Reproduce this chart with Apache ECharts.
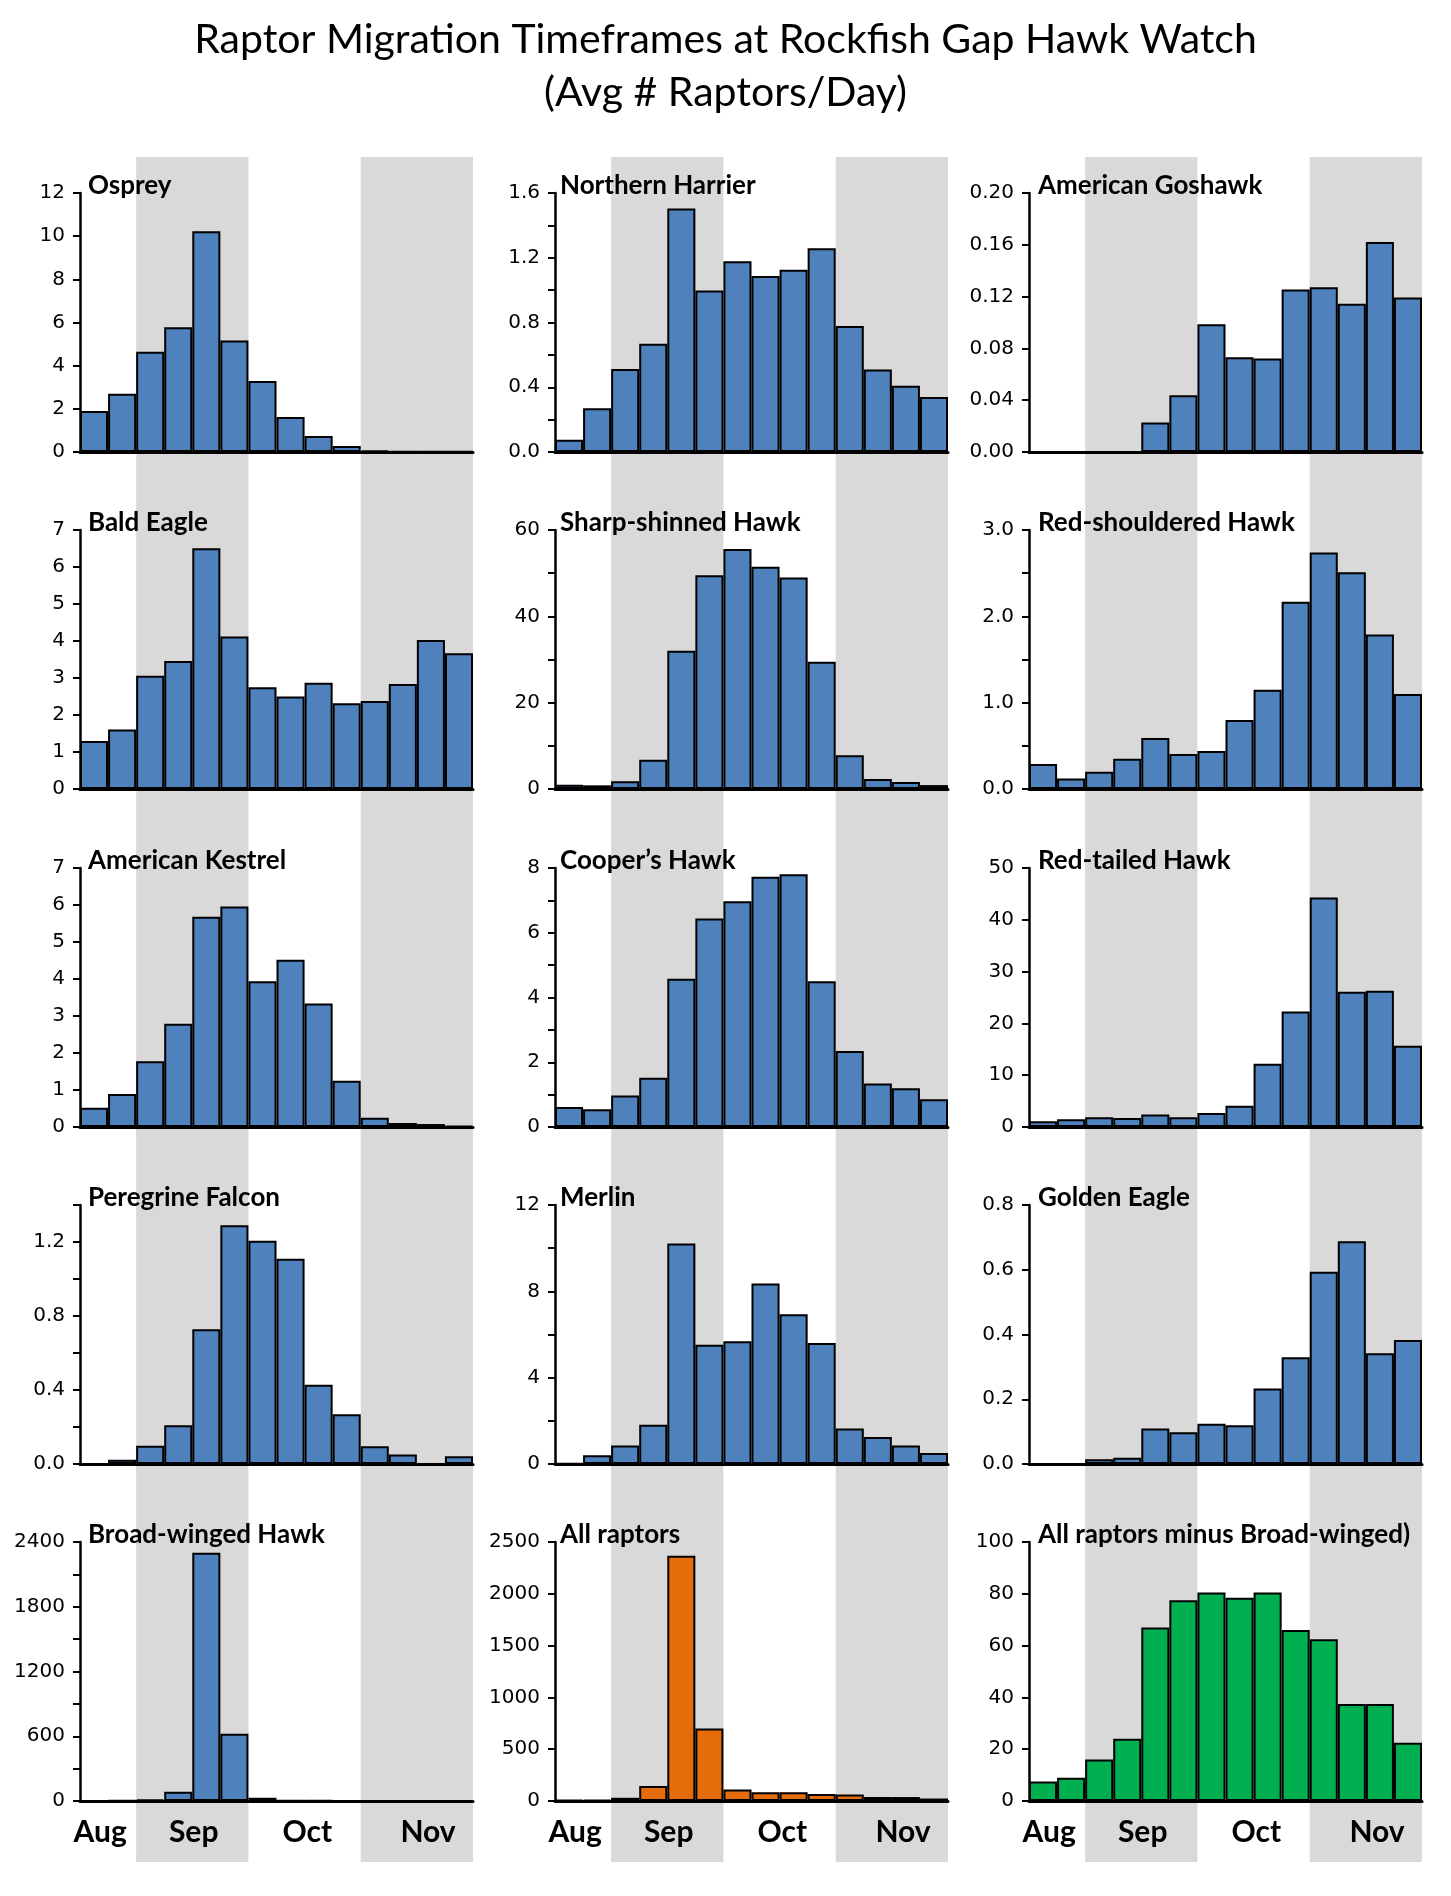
<!DOCTYPE html>
<html>
<head>
<meta charset="utf-8">
<title>Raptor Migration Timeframes</title>
<script src="https://cdn.jsdelivr.net/npm/echarts@6/dist/echarts.min.js"></script>
<style>
  html, body { margin: 0; padding: 0; background: #fff; }
  #chart { width: 1451px; height: 1896px; }
</style>
</head>
<body>
<div id="chart"></div>
<script>
// weekly bins, mid-Aug to end of Nov
const weeks = ['Aug 3', 'Aug 4', 'Sep 1', 'Sep 2', 'Sep 3', 'Sep 4', 'Oct 1', 'Oct 2', 'Oct 3', 'Oct 4', 'Nov 1', 'Nov 2', 'Nov 3', 'Nov 4'];
const months = ['Aug', 'Sep', 'Oct', 'Nov'];
// shaded months (Sep, Nov) as bin ranges
const shadedBins = [[2, 6], [10, 14]];

// avg # raptors per day
const osprey = [1.9, 2.7, 4.64, 5.78, 10.23, 5.17, 3.29, 1.62, 0.74, 0.28, 0.07, 0.03, 0.02, 0.02];
const northernHarrier = [0.076, 0.27, 0.513, 0.669, 1.505, 0.997, 1.178, 1.087, 1.126, 1.258, 0.778, 0.509, 0.41, 0.34];
const americanGoshawk = [0, 0, 0, 0, 0.0227, 0.0438, 0.0987, 0.0732, 0.0722, 0.1255, 0.1273, 0.1144, 0.1621, 0.1193];
const baldEagle = [1.30, 1.61, 3.06, 3.46, 6.51, 4.12, 2.75, 2.50, 2.87, 2.32, 2.38, 2.84, 4.03, 3.67];
const sharpShinned = [1.0, 0.85, 1.8, 6.8, 32.0, 49.5, 55.6, 51.5, 49.0, 29.5, 7.8, 2.3, 1.6, 0.9];
const redShouldered = [0.29, 0.123, 0.20, 0.35, 0.59, 0.405, 0.44, 0.80, 1.15, 2.17, 2.74, 2.51, 1.79, 1.10];
const americanKestrel = [0.52, 0.89, 1.78, 2.79, 5.68, 5.96, 3.94, 4.52, 3.34, 1.25, 0.25, 0.11, 0.08, 0.03];
const coopersHawk = [0.62, 0.55, 0.97, 1.52, 4.58, 6.44, 6.97, 7.73, 7.81, 4.50, 2.35, 1.34, 1.20, 0.86];
const redTailed = [1.1, 1.5, 1.9, 1.75, 2.4, 1.9, 2.7, 4.1, 12.2, 22.3, 44.3, 26.1, 26.3, 15.7];
const peregrine = [0, 0.023, 0.098, 0.21, 0.728, 1.29, 1.207, 1.11, 0.428, 0.269, 0.096, 0.051, 0, 0.042];
const merlin = [0.02, 0.40, 0.86, 1.82, 10.22, 5.52, 5.69, 8.36, 6.94, 5.61, 1.65, 1.25, 0.86, 0.51];
const goldenEagle = [0, 0, 0.015, 0.019, 0.11, 0.098, 0.124, 0.12, 0.233, 0.33, 0.594, 0.688, 0.342, 0.383];
const broadWinged = [2, 3, 12, 85, 2300, 623, 30, 5, 3, 2, 1, 1, 0.5, 0.5];
const allRaptors = [10, 12, 31, 144, 2367, 701, 111, 84, 84, 68, 63, 39, 38, 24];
const allMinusBroadWinged = [7.5, 9, 16, 24, 67, 77.5, 80.5, 78.5, 80.5, 66, 62.5, 37.5, 37.5, 22.5];

const BLUE = '#4f81bd', ORANGE = '#e46c0a', GREEN = '#00b050', SHADE = '#d9d9d9';

// panel setup (axis max, tick step, label step, decimals)
const panels = [
  { name: 'Osprey', data: osprey, max: 12, tick: 2, label: 2, dec: 0 },
  { name: 'Northern Harrier', data: northernHarrier, max: 1.6, tick: 0.2, label: 0.4, dec: 1 },
  { name: 'American Goshawk', data: americanGoshawk, max: 0.2, tick: 0.04, label: 0.04, dec: 2 },
  { name: 'Bald Eagle', data: baldEagle, max: 7, tick: 1, label: 1, dec: 0 },
  { name: 'Sharp-shinned Hawk', data: sharpShinned, max: 60, tick: 10, label: 20, dec: 0 },
  { name: 'Red-shouldered Hawk', data: redShouldered, max: 3, tick: 0.5, label: 1, dec: 1 },
  { name: 'American Kestrel', data: americanKestrel, max: 7, tick: 1, label: 1, dec: 0 },
  { name: 'Cooper’s Hawk', data: coopersHawk, max: 8, tick: 1, label: 2, dec: 0 },
  { name: 'Red-tailed Hawk', data: redTailed, max: 50, tick: 10, label: 10, dec: 0 },
  { name: 'Peregrine Falcon', data: peregrine, max: 1.4, tick: 0.2, label: 0.4, dec: 1 },
  { name: 'Merlin', data: merlin, max: 12, tick: 2, label: 4, dec: 0 },
  { name: 'Golden Eagle', data: goldenEagle, max: 0.8, tick: 0.2, label: 0.2, dec: 1 },
  { name: 'Broad-winged Hawk', data: broadWinged, max: 2400, tick: 300, label: 600, dec: 0 },
  { name: 'All raptors', data: allRaptors, max: 2500, tick: 500, label: 500, dec: 0, color: ORANGE },
  { name: 'All raptors minus Broad-winged)', data: allMinusBroadWinged, max: 100, tick: 20, label: 20, dec: 0, color: GREEN }
];

// layout
const colLeft = [80, 555, 1029];
const titleShift = [8, 5, 9];
const plotW = 393;
const rowTop = [193, 530, 868, 1205, 1542];
const plotH = 259;
const shadeTop = 157, shadeBottom = 1862;
const monthLabelPos = [0.72, 4.05, 8.1, 12.4];

const FONT = 'Lato, "Open Sans", sans-serif';
const TICKFONT = '"DejaVu Sans", Verdana, sans-serif';

const chart = echarts.init(document.getElementById('chart'));

const grid = [], xAxis = [], yAxis = [], series = [];
const title = [
  { text: 'Raptor Migration Timeframes at Rockfish Gap Hawk Watch', left: 'center', top: 13, padding: 0,
    textStyle: { fontFamily: FONT, fontWeight: 'normal', fontSize: 41, lineHeight: 54, color: '#000' } },
  { text: '(Avg # Raptors/Day)', left: 'center', top: 66, padding: 0,
    textStyle: { fontFamily: FONT, fontWeight: 'normal', fontSize: 41, lineHeight: 54, color: '#000' } }
];

// background grids: month shading + month labels, one per column
colLeft.forEach(function (left, c) {
  grid.push({ left: left, top: shadeTop, width: plotW, height: shadeBottom - shadeTop, outerBoundsMode: 'none' });
  xAxis.push({ type: 'value', gridIndex: c, min: 0, max: weeks.length, show: false });
  yAxis.push({ type: 'value', gridIndex: c, min: 0, max: 1, show: false });
  series.push({
    type: 'custom', xAxisIndex: c, yAxisIndex: c, silent: true, z: 0,
    data: shadedBins,
    renderItem: function (params, api) {
      const p0 = api.coord([api.value(0), 1]);
      const p1 = api.coord([api.value(1), 0]);
      return { type: 'rect', shape: { x: p0[0], y: p0[1], width: p1[0] - p0[0], height: p1[1] - p0[1] },
        style: { fill: SHADE } };
    }
  });
  series.push({
    type: 'custom', xAxisIndex: c, yAxisIndex: c, silent: true, z: 3,
    data: monthLabelPos.map(function (x, i) { return [x, 0, i]; }),
    renderItem: function (params, api) {
      const p = api.coord([api.value(0), 0]);
      return { type: 'text', x: p[0], y: p[1] - 30,
        style: { text: months[api.value(2)], fill: '#000', font: 'bold 30px ' + FONT,
          align: 'center', verticalAlign: 'middle', textAlign: 'center', textVerticalAlign: 'middle' } };
    }
  });
});

panels.forEach(function (p, i) {
  const g = i + 3;
  const left = colLeft[i % 3];
  const top = rowTop[Math.floor(i / 3)];
  grid.push({ left: left, top: top, width: plotW, height: plotH, outerBoundsMode: 'none' });
  xAxis.push({
    type: 'category', gridIndex: g, data: weeks, boundaryGap: true, z: 10,
    axisLine: { show: true, lineStyle: { color: '#000', width: 3 } },
    axisTick: { show: false }, axisLabel: { show: false }, splitLine: { show: false }
  });
  yAxis.push({
    type: 'value', gridIndex: g, min: 0, max: p.max, interval: p.tick, z: 10,
    axisLine: { show: true, lineStyle: { color: '#000', width: 2.5 } },
    axisTick: { show: true, inside: false, length: 7, lineStyle: { color: '#000', width: 2 } },
    splitLine: { show: false },
    axisLabel: {
      show: true, margin: 15, color: '#000', fontFamily: TICKFONT, fontSize: 20,
      formatter: function (v) {
        const r = v / p.label;
        return Math.abs(r - Math.round(r)) < 1e-6 ? v.toFixed(p.dec) : '';
      }
    }
  });
  series.push({
    type: 'bar', name: p.name, xAxisIndex: g, yAxisIndex: g, data: p.data,
    barCategoryGap: '0%', z: 2,
    itemStyle: { color: p.color || BLUE, borderColor: '#000', borderWidth: 2 }
  });
  title.push({
    text: p.name, left: left + titleShift[i % 3], top: top - 20, padding: 0,
    textStyle: { fontFamily: FONT, fontWeight: 'bold', fontSize: 26, lineHeight: 26, color: '#000' }
  });
});

chart.setOption({
  animation: false,
  backgroundColor: '#fff',
  title: title,
  grid: grid,
  xAxis: xAxis,
  yAxis: yAxis,
  series: series
});
</script>
</body>
</html>
